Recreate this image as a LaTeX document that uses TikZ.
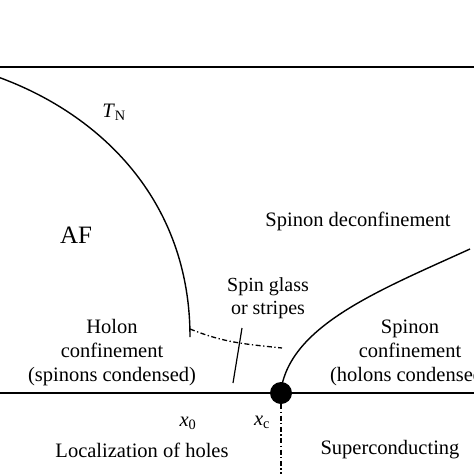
\documentclass[tikz,border=0pt]{standalone}
\usepackage{fontspec}
\setmainfont{Liberation Serif}
\begin{document}
\begin{tikzpicture}[x=1pt,y=-1pt,
  lbl/.style={inner sep=0pt,font=\fontsize{20.5}{24}\selectfont,align=center},
  phase/.style={line width=1.4pt},
  axis/.style={line width=1.6pt},
  dashdot/.style={line width=1.3pt,dash pattern=on 5pt off 2.5pt on 1.3pt off 2.5pt}]
\useasboundingbox (0,0) rectangle (474,474);
\clip (0,0) rectangle (474,474);
% frame lines
\coordinate (tl) at (0,67);
\coordinate (tr) at (474,67);
\coordinate (bl) at (0,393);
\coordinate (br) at (474,393);
\draw[axis] (tl) -- (tr);
\draw[axis] (bl) -- (br);
% T_N curve
\coordinate (tn0) at (-2,77);
\coordinate (tn1) at (190,337);
\draw[phase] (tn0) .. controls (100,114) and (190,200) .. (tn1);
% dash-dot boundary
\coordinate (dd0) at (190,329);
\coordinate (dd1) at (282,348);
\draw[dashdot] (dd0) .. controls (225,343) and (245,344) .. (dd1);
% spin glass tick
\coordinate (ta) at (233,383);
\coordinate (tb) at (242,328);
\draw[phase,line width=1.2pt] (ta) -- (tb);
% critical point
\node[circle,fill=black,minimum size=22pt,inner sep=0pt] (xc) at (281,393) {};
\coordinate (bot) at (281,474);
\draw[dashdot] (xc.center) -- (bot);
% spinon deconfinement boundary
\coordinate (sd0) at (281,390);
\coordinate (sd1) at (470,249);
\draw[phase] (sd0) .. controls (291,325) and (380,290) .. (sd1);
% labels
\node[lbl] (tn) at (114,112) {\textit{T}\textsubscript{N}};
\node[lbl,font=\fontsize{25}{28}\selectfont] (af) at (76,235) {AF};
\node[lbl] (sd) at (358,221) {Spinon deconfinement};
\node[lbl,font=\fontsize{20}{23}\selectfont] (sg) at (268,298) {Spin glass\\or stripes};
\node[lbl] (hc) at (112,353) {Holon\\confinement\\(spinons condensed)};
\node[lbl] (sc) at (410,353) {Spinon\\confinement\\(holons condensed)};
\node[lbl] (x0) at (188,423) {\textit{x}\textsubscript{0}};
\node[lbl] (xcl) at (262,422) {\textit{x}\textsubscript{c}};
\node[lbl] (loc) at (142,450) {Localization of holes};
\node[lbl] (sup) at (390,450) {Superconducting};
\end{tikzpicture}
\end{document}
